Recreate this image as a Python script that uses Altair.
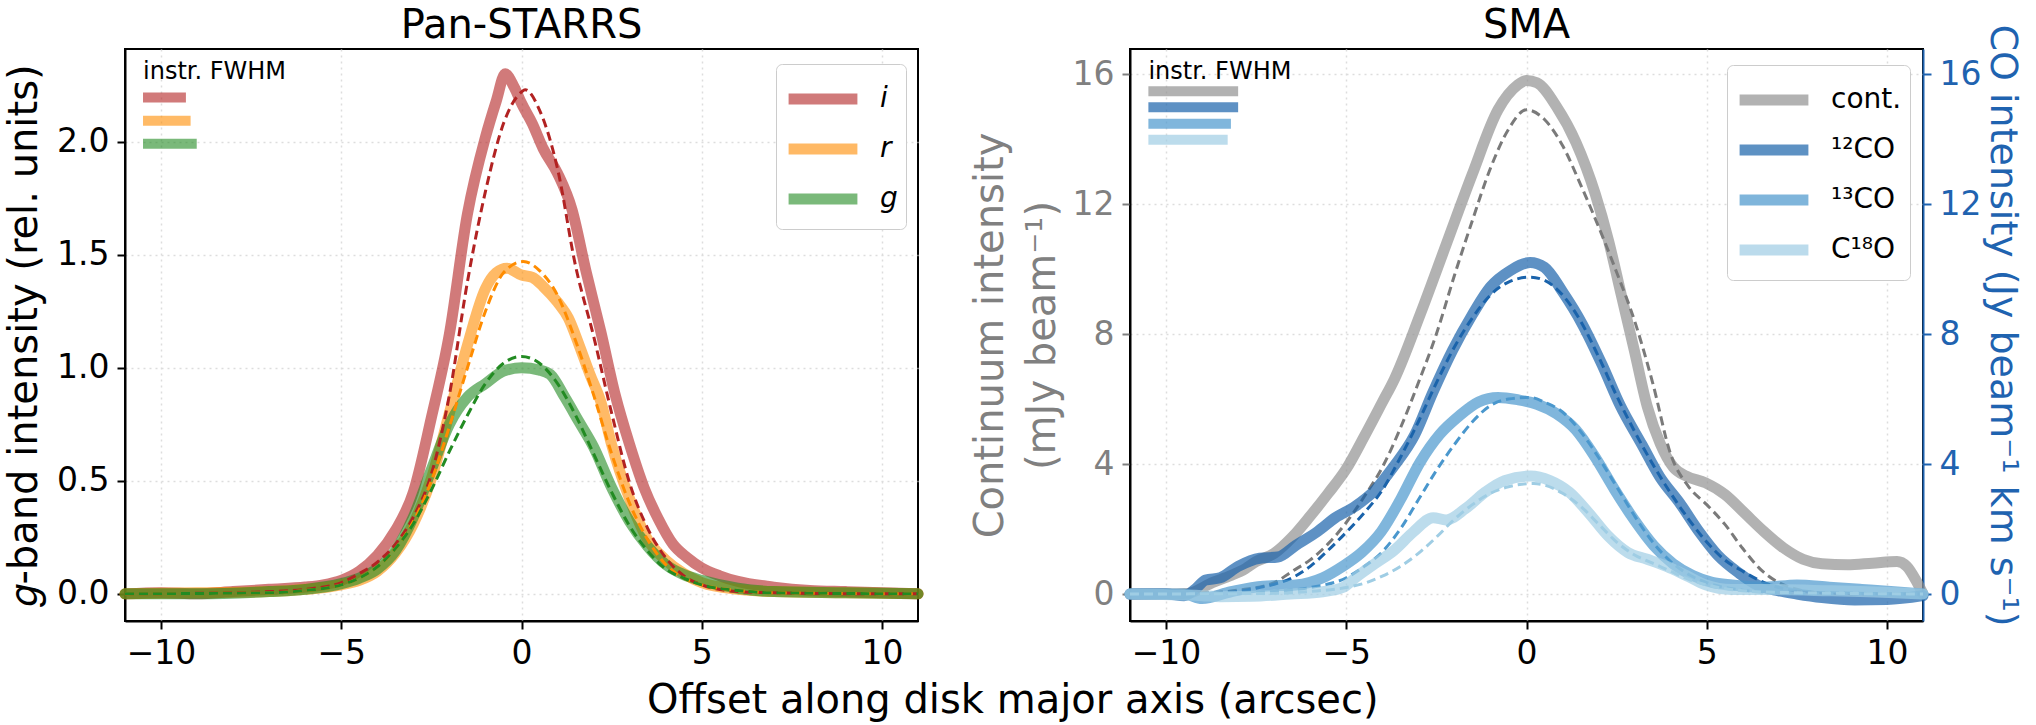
import altair as alt
import pandas as pd

# ---------------- data: Pan-STARRS panel ----------------
PS_BANDS = ["i", "r", "g"]
PS_COLORS = ["#b22222", "#ff8c00", "#228b22"]

I_OBS_X = [-11, -10, -9, -8, -7, -6, -5.5, -5, -4.5, -4, -3.5, -3, -2.5, -2, -1.5, -1, -0.7, -0.45, -0.2, 0, 0.3, 0.6, 1.0, 1.4, 1.8, 2.2, 2.6, 3.0, 3.4, 3.8, 4.2, 4.6, 5.0, 5.5, 6, 7, 8, 9, 10, 11]
I_OBS_Y = [0.0, 0.005, 0.0, 0.01, 0.02, 0.03, 0.04, 0.06, 0.1, 0.17, 0.28, 0.45, 0.78, 1.15, 1.68, 2.02, 2.18, 2.30, 2.24, 2.17, 2.08, 1.97, 1.86, 1.70, 1.42, 1.16, 0.88, 0.66, 0.47, 0.33, 0.22, 0.16, 0.115, 0.08, 0.055, 0.03, 0.015, 0.01, 0.005, 0.0]
I_MOD_X = [-11, -8, -7, -6, -5, -4.5, -4, -3.5, -3, -2.5, -2, -1.5, -1, -0.5, 0, 0.1, 0.5, 1, 1.5, 2, 2.5, 3, 3.5, 4, 4.5, 5, 6, 7, 8, 11]
I_MOD_Y = [0, 0.005, 0.01, 0.02, 0.05, 0.09, 0.14, 0.22, 0.34, 0.53, 0.88, 1.38, 1.78, 2.08, 2.22, 2.23, 2.14, 1.88, 1.45, 1.14, 0.80, 0.49, 0.29, 0.16, 0.08, 0.04, 0.01, 0.005, 0.002, 0]

R_OBS_X = [-11, -9, -7, -6, -5, -4.5, -4, -3.5, -3, -2.5, -2, -1.5, -1, -0.7, -0.4, 0, 0.3, 0.6, 1.0, 1.3, 1.6, 1.9, 2.2, 2.5, 3.0, 3.5, 4, 4.5, 5, 6, 7, 9, 11]
R_OBS_Y = [0, 0.005, 0.01, 0.02, 0.04, 0.06, 0.10, 0.18, 0.31, 0.51, 0.80, 1.10, 1.35, 1.42, 1.44, 1.41, 1.40, 1.36, 1.29, 1.22, 1.10, 0.97, 0.85, 0.66, 0.42, 0.24, 0.15, 0.09, 0.05, 0.02, 0.01, 0.005, 0]
R_MOD_X = [-11, -7, -6, -5, -4.5, -4, -3.5, -3, -2.5, -2, -1.5, -1, -0.5, 0.05, 0.5, 1, 1.5, 2, 2.5, 3, 3.5, 4, 4.5, 5, 6, 7, 11]
R_MOD_Y = [0, 0.005, 0.015, 0.04, 0.07, 0.12, 0.20, 0.32, 0.50, 0.74, 1.00, 1.25, 1.42, 1.47, 1.43, 1.32, 1.12, 0.88, 0.62, 0.40, 0.24, 0.13, 0.07, 0.04, 0.015, 0.005, 0]

G_OBS_X = [-11, -9, -7, -6, -5, -4.5, -4, -3.5, -3, -2.5, -2, -1.5, -1, -0.5, 0, 0.5, 0.8, 1.2, 1.6, 2.0, 2.5, 3.0, 3.5, 4.0, 4.5, 5, 6, 7, 9, 11]
G_OBS_Y = [0, 0.0, 0.01, 0.02, 0.045, 0.07, 0.11, 0.19, 0.34, 0.55, 0.75, 0.87, 0.93, 0.985, 1.0, 0.99, 0.97, 0.87, 0.76, 0.65, 0.47, 0.32, 0.21, 0.13, 0.085, 0.06, 0.025, 0.01, 0.005, 0]
G_MOD_X = [-11, -7, -6, -5, -4.5, -4, -3.5, -3, -2.5, -2, -1.5, -1, -0.5, 0, 0.5, 1, 1.5, 2, 2.5, 3, 3.5, 4, 4.5, 5, 6, 7, 11]
G_MOD_Y = [0, 0.005, 0.015, 0.04, 0.07, 0.12, 0.20, 0.31, 0.46, 0.63, 0.79, 0.93, 1.02, 1.05, 1.02, 0.93, 0.79, 0.62, 0.45, 0.30, 0.19, 0.11, 0.07, 0.04, 0.015, 0.005, 0]

PS_FWHM = [1.19, 1.32, 1.49]          # arcsec
PS_FWHM_LEVEL = [2.195, 2.093, 1.991]  # where the bars sit
PS_FWHM_START = -10.5

# ---------------- data: SMA panel ----------------
SMA_SERIES = ["cont.", "\u00b9\u00b2CO", "\u00b9\u00b3CO", "C\u00b9\u2078O"]
SMA_COLORS = ["#929292", "#1a63ab", "#4a97cd", "#9fcde4"]
SMA_DASH_COLORS = ["#7a7a7a", "#1a63ab", "#4a97cd", "#9fcde4"]

CONT_OBS_X = [-11, -10, -9.4, -8.7, -8.2, -7.8, -7.5, -7, -6.5, -6, -5.5, -5, -4.5, -4, -3.67, -2.95, -2.23, -1.51, -0.79, -0.25, 0, 0.29, 0.83, 1.37, 1.91, 2.27, 2.63, 2.99, 3.35, 3.71, 4.07, 4.43, 4.97, 5.51, 6.05, 6.59, 7.13, 7.67, 8.2, 8.9, 9.6, 10.28, 10.55, 10.8, 11]
CONT_OBS_Y = [0, 0, 0.02, 0.36, 0.57, 0.78, 1.0, 1.25, 1.75, 2.4, 3.1, 3.85, 4.85, 5.9, 6.6, 8.6, 10.75, 12.9, 14.9, 15.66, 15.8, 15.73, 15.0, 13.9, 12.3, 10.9, 9.2, 7.5, 5.77, 4.63, 3.91, 3.63, 3.42, 3.06, 2.49, 1.92, 1.42, 1.07, 0.93, 0.9, 0.95, 1.0, 0.85, 0.43, 0]
CONT_MOD_X = [-11, -9, -8, -7, -6.5, -6, -5.5, -5, -4.5, -4, -3.5, -3, -2.5, -2, -1.5, -1, -0.5, 0, 0.5, 1, 1.5, 2, 2.5, 3, 3.5, 4, 4.5, 5, 5.5, 6, 6.5, 7, 7.5, 8, 9, 11]
CONT_MOD_Y = [0, 0.03, 0.12, 0.35, 0.7, 1.05, 1.55, 2.2, 3.0, 3.9, 5.1, 6.5, 8.0, 9.8, 11.5, 13.1, 14.3, 14.9, 14.6, 13.8, 12.6, 11.3, 9.9, 8.4, 6.5, 4.3, 3.3, 2.75, 2.15, 1.4, 0.75, 0.35, 0.15, 0.05, 0.01, 0]

CO12_OBS_X = [-11, -10, -9.5, -9.2, -8.9, -8.5, -8, -7.4, -6.9, -6.4, -5.8, -5.3, -4.75, -4.2, -3.7, -3.1, -2.6, -2.05, -1.5, -1.0, -0.45, 0.1, 0.5, 1.0, 1.55, 2.1, 2.6, 3.2, 3.7, 4.25, 4.8, 5.3, 5.9, 6.4, 7.0, 7.5, 8.2, 9.1, 10, 11]
CO12_OBS_Y = [0, 0, -0.05, 0.14, 0.43, 0.5, 0.85, 1.1, 1.14, 1.5, 1.92, 2.35, 2.7, 3.2, 3.9, 4.9, 6.2, 7.5, 8.6, 9.45, 9.95, 10.2, 10.05, 9.3, 8.3, 7.05, 5.8, 4.6, 3.6, 2.8, 1.9, 1.2, 0.64, 0.28, 0.1, 0.0, -0.11, -0.18, -0.17, -0.05]
CO12_MOD_X = [-11, -9, -8, -7.5, -7, -6.5, -6, -5.5, -5, -4.5, -4, -3.5, -3, -2.5, -2, -1.5, -1, -0.5, 0.1, 0.5, 1, 1.5, 2, 2.5, 3, 3.5, 4, 4.5, 5, 5.5, 6, 6.5, 7, 8, 11]
CO12_MOD_Y = [0, 0.02, 0.08, 0.18, 0.3, 0.5, 0.85, 1.35, 1.9, 2.5, 3.2, 4.2, 5.3, 6.5, 7.6, 8.5, 9.2, 9.6, 9.75, 9.65, 9.2, 8.4, 7.3, 6.1, 5.0, 4.0, 3.1, 2.3, 1.6, 1.05, 0.7, 0.4, 0.2, 0.05, 0]

CO13_OBS_X = [-11, -9.5, -9, -8.2, -7.3, -6.4, -5.65, -5.1, -4.57, -4.03, -3.49, -2.95, -2.41, -1.87, -1.33, -0.79, -0.25, 0.29, 0.83, 1.37, 1.91, 2.45, 2.99, 3.53, 4.07, 4.61, 5.15, 5.7, 6.6, 7.5, 8.4, 9.3, 10.2, 11]
CO13_OBS_Y = [0, 0, -0.14, 0.07, 0.24, 0.28, 0.5, 0.85, 1.28, 1.92, 2.92, 4.06, 4.91, 5.48, 5.91, 6.05, 5.98, 5.84, 5.55, 5.05, 4.2, 3.2, 2.28, 1.49, 0.93, 0.57, 0.36, 0.28, 0.21, 0.28, 0.21, 0.14, 0.07, 0.0]
CO13_MOD_X = [-11, -8, -7, -6, -5, -4.5, -4, -3.5, -3, -2.5, -2, -1.5, -1, -0.5, 0.1, 0.5, 1, 1.5, 2, 2.5, 3, 3.5, 4, 4.5, 5, 6, 7, 8, 11]
CO13_MOD_Y = [0, 0.02, 0.08, 0.2, 0.5, 0.85, 1.3, 2.0, 2.9, 3.8, 4.6, 5.3, 5.8, 6.0, 6.05, 5.9, 5.6, 5.0, 4.2, 3.3, 2.4, 1.6, 1.0, 0.6, 0.35, 0.12, 0.04, 0.01, 0]

C18O_OBS_X = [-11, -9, -8.5, -7.6, -6.55, -5.65, -5.1, -4.75, -4.21, -3.67, -3.13, -2.59, -2.23, -1.69, -1.15, -0.61, 0.11, 0.65, 1.19, 1.73, 2.27, 2.81, 3.35, 3.89, 4.43, 4.97, 5.69, 6.59, 8.39, 10.2, 11]
C18O_OBS_Y = [0, -0.05, -0.08, -0.07, 0.0, 0.07, 0.2, 0.5, 0.93, 1.35, 1.92, 2.35, 2.28, 2.63, 3.13, 3.49, 3.63, 3.49, 3.13, 2.49, 1.78, 1.28, 1.07, 0.85, 0.57, 0.28, 0.14, 0.14, 0.1, 0.04, 0.0]
C18O_MOD_X = [-11, -7, -6, -5, -4.5, -4, -3.5, -3, -2.5, -2, -1.5, -1, -0.5, 0.2, 0.5, 1, 1.5, 2, 2.5, 3, 3.5, 4, 4.5, 5, 6, 7, 11]
C18O_MOD_Y = [0, 0.02, 0.08, 0.2, 0.33, 0.55, 0.85, 1.25, 1.75, 2.3, 2.75, 3.1, 3.3, 3.4, 3.35, 3.1, 2.7, 2.15, 1.6, 1.2, 0.95, 0.7, 0.45, 0.28, 0.1, 0.05, 0]

SMA_FWHM = [2.49, 2.49, 2.29, 2.20]
SMA_FWHM_LEVEL = [15.47, 14.98, 14.47, 13.98]
SMA_FWHM_START = -10.49

# ---------------- styling ----------------
FONT = "DejaVu Sans"
BLUE = "#1f63b0"
GRAY = "#808080"
W, H = 793, 572
THICK = 11
DASH = [9, 5]
TITLE_SIZE = 40
TITLE_OFFSET = 3
CO_TITLE_OVERHANG = 25   # px that the long right-hand axis title starts above the plot


def frame(xs, ys, name):
    return pd.DataFrame({"offset": xs, "value": ys, "series": name})


X = alt.X("offset:Q", scale=alt.Scale(domain=[-11, 11], nice=False, zero=False),
          axis=alt.Axis(values=[-10, -5, 0, 5, 10], title=None, format="d"))
X2 = alt.X2("offset_end")

# ---------- Pan-STARRS ----------
ps_scale_y = alt.Scale(domain=[-0.12, 2.41], nice=False, zero=False)
ps_axis_y = alt.Axis(values=[0, 0.5, 1.0, 1.5, 2.0], format=".1f",
                     title="\U0001D454-band intensity (rel. units)", titlePadding=12)
PS_Y = alt.Y("value:Q", scale=ps_scale_y, axis=ps_axis_y)
ps_legend = alt.Legend(title=None, orient="none", legendX=651, legendY=15,
                       symbolType="M-1.6,0H1.6", symbolSize=1849, symbolStrokeWidth=THICK,
                       labelFontSize=28, labelFontStyle="italic", labelFont=FONT,
                       padding=8, rowPadding=1, symbolOffset=12, labelOffset=30,
                       strokeColor="#cccccc", fillColor="white", cornerRadius=6)
PS_COLOR = alt.Color("series:N", scale=alt.Scale(domain=PS_BANDS, range=PS_COLORS), legend=ps_legend)

ps_obs = [(I_OBS_X, I_OBS_Y), (R_OBS_X, R_OBS_Y), (G_OBS_X, G_OBS_Y)]
ps_mod = [(I_MOD_X, I_MOD_Y), (R_MOD_X, R_MOD_Y), (G_MOD_X, G_MOD_Y)]

ps_layers = []
for band, (xs, ys) in zip(PS_BANDS, ps_obs):
    ps_layers.append(alt.Chart(frame(xs, ys, band)).mark_line(
        strokeWidth=THICK, opacity=0.6, interpolate="monotone", strokeCap="round")
        .encode(x=X, y=PS_Y, color=PS_COLOR))
for band, col, (xs, ys) in zip(PS_BANDS, PS_COLORS, ps_mod):
    ps_layers.append(alt.Chart(frame(xs, ys, band)).mark_line(
        strokeWidth=3, color=col, strokeDash=DASH, interpolate="monotone")
        .encode(x=X, y=PS_Y))

ps_fwhm = pd.DataFrame({
    "offset": [PS_FWHM_START] * 3,
    "offset_end": [PS_FWHM_START + w for w in PS_FWHM],
    "value": PS_FWHM_LEVEL,
    "series": PS_BANDS,
})
ps_layers.append(alt.Chart(ps_fwhm).mark_rule(strokeWidth=10, opacity=0.6)
                 .encode(x=X, x2=X2, y=PS_Y, color=PS_COLOR))
ps_layers.append(alt.Chart(pd.DataFrame({"offset": [PS_FWHM_START], "value": [2.279], "t": ["instr. FWHM"]}))
                 .mark_text(align="left", baseline="alphabetic", fontSize=24, font=FONT)
                 .encode(x=X, y=PS_Y, text="t:N"))

left = alt.layer(*ps_layers).properties(
    width=W, height=H,
    title=alt.TitleParams("Pan-STARRS", fontSize=TITLE_SIZE, fontWeight="normal", font=FONT,
                          anchor="middle", offset=TITLE_OFFSET))

# ---------- SMA ----------
sma_scale_y = alt.Scale(domain=[-0.83, 16.77], nice=False, zero=False)
sma_left_axis = alt.Axis(values=[0, 4, 8, 12, 16], format="d",
                         title=["Continuum intensity", "(mJy beam\u207b\u00b9)"],
                         labelColor=GRAY, tickColor=GRAY, titleColor=GRAY, domainColor="black",
                         titleLineHeight=52, titlePadding=10)
sma_right_axis = alt.Axis(orient="right", values=[0, 4, 8, 12, 16], format="d", grid=False,
                          title="CO intensity (Jy beam\u207b\u00b9 km s\u207b\u00b9)",
                          titleFontSize=38, titleAnchor="start", titleY=-CO_TITLE_OVERHANG,
                          labelColor=BLUE, tickColor=BLUE, titleColor=BLUE, domainColor=BLUE,
                          labelPadding=8, titlePadding=2)
SMA_YL = alt.Y("value:Q", scale=sma_scale_y, axis=sma_left_axis)
SMA_YR = alt.Y("value:Q", scale=sma_scale_y, axis=sma_right_axis)
sma_legend = alt.Legend(title=None, orient="none", legendX=597, legendY=16,
                        symbolType="M-1.6,0H1.6", symbolSize=1849, symbolStrokeWidth=THICK,
                        labelFontSize=28, labelFont=FONT,
                        padding=8, rowPadding=1, symbolOffset=12, labelOffset=30,
                        strokeColor="#cccccc", fillColor="white", cornerRadius=6)
SMA_COLOR = alt.Color("series:N", scale=alt.Scale(domain=SMA_SERIES, range=SMA_COLORS), legend=sma_legend)

sma_obs = [(CONT_OBS_X, CONT_OBS_Y), (CO12_OBS_X, CO12_OBS_Y), (CO13_OBS_X, CO13_OBS_Y), (C18O_OBS_X, C18O_OBS_Y)]
sma_mod = [(CONT_MOD_X, CONT_MOD_Y), (CO12_MOD_X, CO12_MOD_Y), (CO13_MOD_X, CO13_MOD_Y), (C18O_MOD_X, C18O_MOD_Y)]

layers_a = []
layers_b = []
for k, name in enumerate(SMA_SERIES):
    ycode = SMA_YL if k == 0 else SMA_YR
    target = layers_a if k == 0 else layers_b
    xs, ys = sma_obs[k]
    target.append(alt.Chart(frame(xs, ys, name)).mark_line(
        strokeWidth=THICK, opacity=0.7, interpolate="monotone", strokeCap="round")
        .encode(x=X, y=ycode, color=SMA_COLOR))
    xs, ys = sma_mod[k]
    target.append(alt.Chart(frame(xs, ys, name)).mark_line(
        strokeWidth=3, color=SMA_DASH_COLORS[k], strokeDash=DASH, interpolate="monotone")
        .encode(x=X, y=ycode))

sma_fwhm = pd.DataFrame({
    "offset": [SMA_FWHM_START] * 4,
    "offset_end": [SMA_FWHM_START + w for w in SMA_FWHM],
    "value": SMA_FWHM_LEVEL,
    "series": SMA_SERIES,
})
layers_a.append(alt.Chart(sma_fwhm).mark_rule(strokeWidth=10, opacity=0.7)
                .encode(x=X, x2=X2, y=SMA_YL, color=SMA_COLOR))
layers_a.append(alt.Chart(pd.DataFrame({"offset": [SMA_FWHM_START], "value": [15.84], "t": ["instr. FWHM"]}))
                .mark_text(align="left", baseline="alphabetic", fontSize=24, font=FONT)
                .encode(x=X, y=SMA_YL, text="t:N"))

# the right-hand axis title starts above the plot; pull the panel title back down by
# that overhang so both panel titles sit at the same height
right = alt.layer(alt.layer(*layers_a), alt.layer(*layers_b)).resolve_scale(y="independent").properties(
    width=W, height=H,
    title=alt.TitleParams("SMA", fontSize=TITLE_SIZE, fontWeight="normal", font=FONT, anchor="middle",
                          offset=TITLE_OFFSET - CO_TITLE_OVERHANG))

chart = alt.hconcat(left, right, spacing=28).resolve_scale(color="independent").properties(
    title=alt.TitleParams("Offset along disk major axis (arcsec)", orient="bottom", anchor="middle",
                          fontSize=40, fontWeight="normal", font=FONT, offset=10),
    padding={"left": 3, "right": 12, "top": 5, "bottom": 2},
).configure(font=FONT).configure_view(stroke="black", strokeWidth=2).configure_axis(
    labelFontSize=33, titleFontSize=40, titleFontWeight="normal", labelFont=FONT, titleFont=FONT,
    tickSize=8, tickWidth=2, domainWidth=2, domainColor="black", tickColor="black",
    labelColor="black", titleColor="black", gridColor="#dddddd", gridDash=[2, 4], gridWidth=1.5,
    labelPadding=8,
)

chart.save("out.html", embed_options={"renderer": "svg", "actions": False})
